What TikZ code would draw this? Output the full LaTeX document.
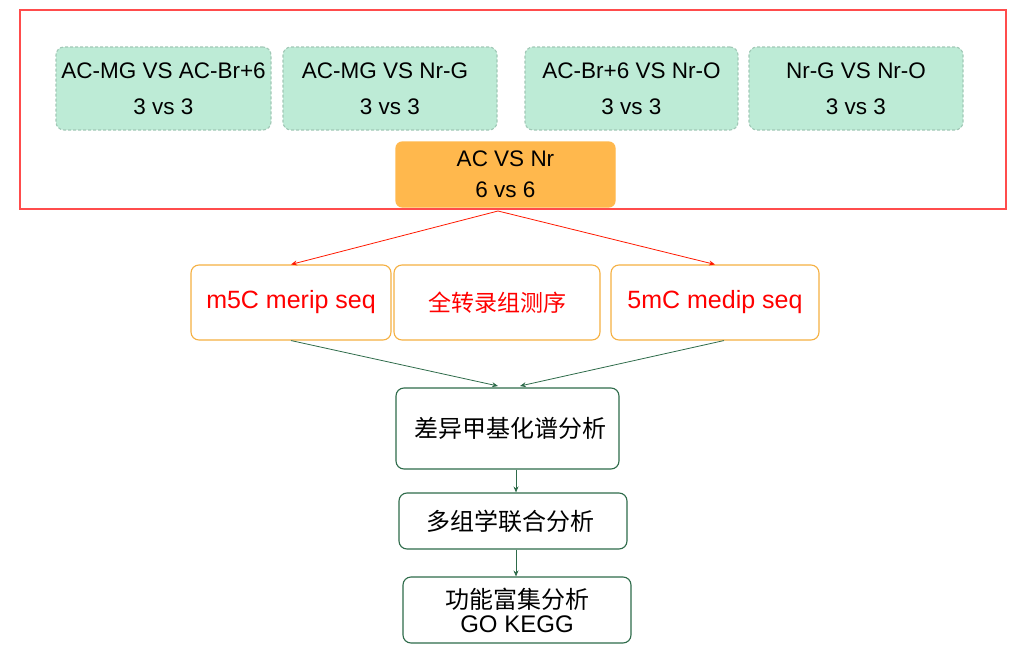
\documentclass[tikz,border=0pt]{standalone}
\usepackage{fontspec}
\setmainfont{Liberation Sans}
\newfontfamily\cjk{Noto Sans CJK SC}
\usetikzlibrary{arrows.meta}
\definecolor{mint}{HTML}{BDEBD6}
\definecolor{org}{HTML}{FFB84D}
\definecolor{dgreen}{HTML}{2E6B4A}
\definecolor{lorg}{HTML}{F5B042}
\begin{document}
\begin{tikzpicture}[x=1pt,y=-1pt,line width=1.1pt,
  gbox/.style={draw=mint!85!black,densely dashed,fill=mint,rounded corners=8pt,align=center,font=\fontsize{22.5}{36}\selectfont},
  mbox/.style={draw=lorg,fill=white,rounded corners=8pt,text=red,font=\fontsize{25}{28}\selectfont},
  sbox/.style={draw=dgreen,fill=white,rounded corners=8pt,align=center,font=\fontsize{24}{28}\selectfont\cjk},
  ra/.style={line width=0.8pt,draw=red!80!orange,-{Stealth[length=6pt,width=5pt]}},
  ga/.style={line width=0.8pt,draw=dgreen,-{Stealth[length=6pt,width=5pt]}}]
\useasboundingbox (0,0) rectangle (1026,653);
\draw[draw=red!60!pink] (20,10) rectangle (1006,209);
\node[gbox,minimum width=215pt,minimum height=83pt] (g1) at (163.5,88.5) {AC-MG VS AC-Br+6\\3 vs 3};
\node[gbox,minimum width=214pt,minimum height=83pt] (g2) at (390,88.5) {\hspace*{-10pt}AC-MG VS Nr-G\\3 vs 3};
\node[gbox,minimum width=213pt,minimum height=83pt] (g3) at (631.5,88.5) {AC-Br+6 VS Nr-O\\3 vs 3};
\node[gbox,minimum width=214pt,minimum height=83pt] (g4) at (856,88.5) {Nr-G VS Nr-O\\3 vs 3};
\node[draw=org,fill=org,rounded corners=6pt,minimum width=219pt,minimum height=65pt,align=center,font=\fontsize{22.5}{31}\selectfont] (ac) at (505.5,174.5) {AC VS Nr\\6 vs 6};
\node[mbox,minimum width=200pt,minimum height=75pt] (m1) at (291,302.5) {m5C merip seq};
\node[mbox,minimum width=206pt,minimum height=75pt,font=\fontsize{23}{28}\selectfont\cjk] (m2) at (497,302.5) {全转录组测序};
\node[mbox,minimum width=208pt,minimum height=75pt] (m3) at (715,302.5) {5mC medip seq};
\node[sbox,minimum width=223pt,minimum height=81pt] (s1) at (507.5,428.5) {\hspace*{6pt}差异甲基化谱分析};
\node[sbox,minimum width=228pt,minimum height=56pt] (s2) at (513,521) {\hspace*{-6pt}多组学联合分析};
\node[sbox,minimum width=228pt,minimum height=66pt,font=\fontsize{24}{27}\selectfont] (s3) at (517,610) {{\cjk 功能富集分析}\\[-3pt]GO KEGG};
\coordinate (ra0) at (498,211);
\draw[ra] (ra0) -- (m1.north);
\draw[ra] (ra0) -- (m3.north);
\draw[ga] (m1.south) -- (498,386);
\draw[ga] ([xshift=9pt]m3.south) -- (520,386);
\draw[ga] (s1.south-|516,0) -- (s2.north-|516,0);
\draw[ga] (s2.south-|516,0) -- (s3.north-|516,0);
\end{tikzpicture}
\end{document}
